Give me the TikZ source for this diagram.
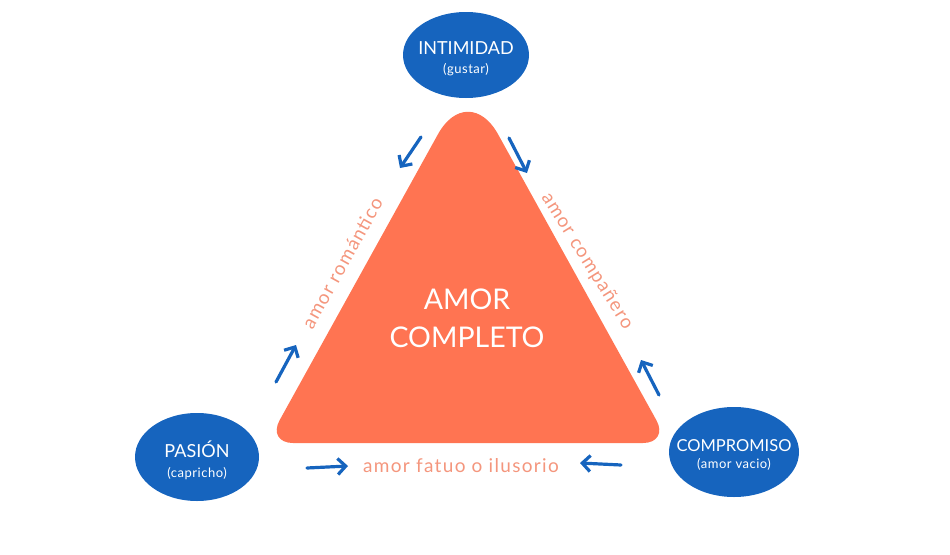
\documentclass[tikz,border=0pt]{standalone}
\usepackage{fontspec}
\setmainfont{Lato}
\newfontfamily\labfont{Lato}[LetterSpace=7]
\newfontfamily\subfont{Lato}[LetterSpace=4]
\usetikzlibrary{arrows.meta,shapes.geometric}
\definecolor{tri}{RGB}{255,116,82}
\definecolor{bluec}{RGB}{22,100,190}
\definecolor{lbl}{RGB}{244,150,125}
\tikzset{
  bub/.style={ellipse, fill=bluec, inner sep=0pt},
  bubtext/.style={text=white, align=center, inner sep=0pt},
  arr/.style={draw=bluec, line width=3.2pt, line cap=round, line join=round, -{Straight Barb[length=8pt,width=16pt,line width=3.2pt]}},
  lab/.style={text=lbl, font=\labfont\fontsize{19}{22}\selectfont, inner sep=0pt}
}
\begin{document}
\begin{tikzpicture}[x=1pt,y=-1pt]
\useasboundingbox (0,0) rectangle (950,554);
% triangle
\coordinate (A) at (468,80);
\coordinate (B) at (267,443);
\coordinate (C) at (669,443);
\coordinate (M) at (468,443);
\fill[tri] (M) [rounded corners=26pt] -- (B) [rounded corners=62pt] -- (A) [rounded corners=26pt] -- (C) [sharp corners] -- cycle;
\node[text=white, align=center, font=\fontsize{28.5}{38}\selectfont] (center) at (467,318) {AMOR\\COMPLETO};
% ellipses
\node[bub, minimum width=126pt, minimum height=86pt] (int) at (466,55) {};
\node[bubtext] (intt) at ([yshift=-4pt]int.center) {\fontsize{18}{20}\selectfont INTIMIDAD\\[7pt]\subfont\fontsize{13}{14}\selectfont (gustar)};
\node[bub, minimum width=124pt, minimum height=88pt] (pas) at (197,457) {};
\node[bubtext] (past) at ([yshift=-3pt]pas.center) {\fontsize{18}{20}\selectfont PASIÓN\\[8pt]\subfont\fontsize{13}{14}\selectfont (capricho)};
\node[bub, minimum width=130pt, minimum height=90pt] (com) at (734,452) {};
\node[bubtext] (comt) at ([yshift=-3pt]com.center) {\fontsize{16.5}{19}\selectfont COMPROMISO\\[5pt]\subfont\fontsize{13}{14}\selectfont (amor vacio)};
% labels
\node[lab, rotate=61] (rom) at (342,263) {amor romántico};
\node[lab, rotate=-58] (comp) at (587,261) {amor compañero};
\node[lab] (fat) at (461,466) {amor fatuo o ilusorio};
% arrows
\coordinate (a1s) at (421,137); \coordinate (a1e) at (400,168);
\coordinate (a2s) at (509,138); \coordinate (a2e) at (527,173);
\coordinate (a3s) at (276,382); \coordinate (a3e) at (296,345);
\coordinate (a4s) at (659,395); \coordinate (a4e) at (641,360);
\coordinate (a5s) at (307,468); \coordinate (a5e) at (348,466);
\coordinate (a6s) at (621,465); \coordinate (a6e) at (580,463);
\draw[arr] (a1s) -- (a1e);
\draw[arr] (a2s) -- (a2e);
\draw[arr] (a3s) -- (a3e);
\draw[arr] (a4s) -- (a4e);
\draw[arr] (a5s) -- (a5e);
\draw[arr] (a6s) -- (a6e);
\end{tikzpicture}
\end{document}
